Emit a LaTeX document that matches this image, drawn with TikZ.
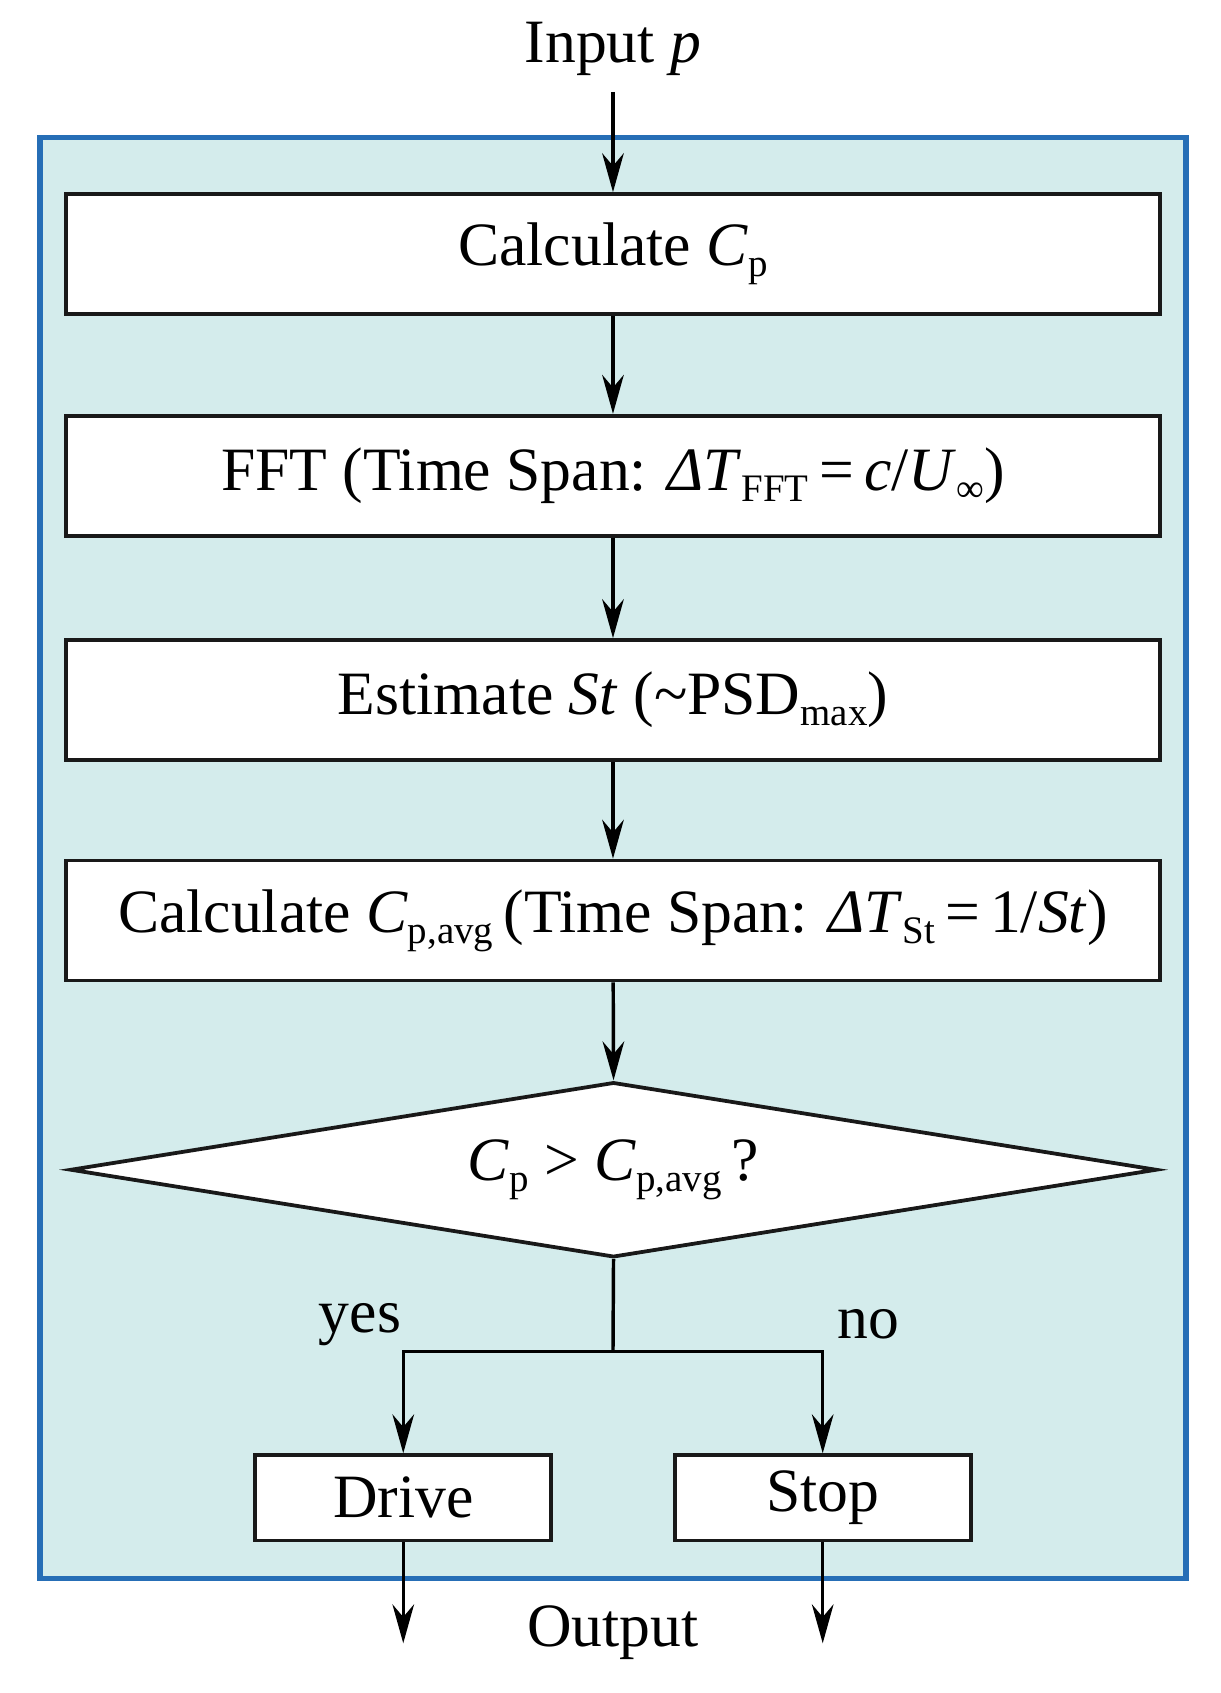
\documentclass[tikz,border=0pt]{standalone}
\usepackage{fontspec}
\setmainfont{Liberation Serif}
\usetikzlibrary{arrows.meta,shapes.geometric}
\definecolor{frameblue}{RGB}{38,110,182}
\definecolor{bgcyan}{RGB}{212,236,236}
\newcommand{\sbs}[1]{{\fontsize{36}{40}\selectfont\raisebox{-10pt}{#1}}}
\begin{document}
\begin{tikzpicture}[x=1pt,y=-1pt,
  every node/.style={font=\fontsize{57}{62}\selectfont},
  stepbox/.style={draw=black!90,line width=3.5pt,fill=white,minimum width=1012pt,minimum height=111pt,inner sep=0pt},
  smallbox/.style={draw=black!90,line width=3.5pt,fill=white,minimum width=274pt,minimum height=79pt,inner sep=0pt},
  arr/.style={line width=3.2pt,-{Stealth[length=36pt,width=20pt]}},
  ln/.style={line width=3.2pt}]
\useasboundingbox (0,0) rectangle (1129,1566);
\draw[frameblue,line width=5pt,fill=bgcyan] (37,127) rectangle (1097,1460);
\node (in) at (567,45) {Input \textit{p}};
\coordinate (inS) at (567,85);
\node[stepbox] (b1) at (567,235) {Calculate \textit{C}\sbs{p}};
\node[stepbox] (b2) at (567,440) {FFT (Time Span: \textit{ΔT}\sbs{FFT}\,=\,\textit{c}/\textit{U}\sbs{∞})};
\node[stepbox] (b3) at (567,647.5) {Estimate \textit{St} (\textasciitilde PSD\sbs{max})};
\node[stepbox] (b4) at (567,851.5) {Calculate \textit{C}\sbs{p,avg}\,(Time Span: \textit{ΔT}\sbs{St}\,=\,1/\textit{St})};
\node[draw=black!90,line width=3.5pt,fill=white,diamond,aspect=6.2,minimum width=1005pt,minimum height=162pt,inner sep=0pt] (d) at (567.5,1082) {\textit{C}\sbs{p} > \textit{C}\sbs{p,avg}\,?};
\coordinate (j) at (567,1250);
\coordinate (jl) at (373,1250);
\coordinate (jr) at (761,1250);
\node[smallbox] (dr) at (373,1385.5) {Drive};
\node[smallbox] (st) at (761,1385.5) {Stop};
\node at (333,1225) {yes};
\node at (803,1225) {no};
\node (out) at (567,1510) {Output};
\coordinate (o1) at (373,1520);
\coordinate (o2) at (761,1520);
\draw[arr] (inS) -- (b1.north);
\draw[arr] (b1) -- (b2);
\draw[arr] (b2) -- (b3);
\draw[arr] (b3) -- (b4);
\draw[arr] (b4) -- (d.north);
\draw[ln] (d.south) -- (j);
\draw[arr] (j) -- (jl) -- (dr.north);
\draw[arr] (j) -- (jr) -- (st.north);
\draw[arr] (dr.south) -- (o1);
\draw[arr] (st.south) -- (o2);
\end{tikzpicture}
\end{document}
